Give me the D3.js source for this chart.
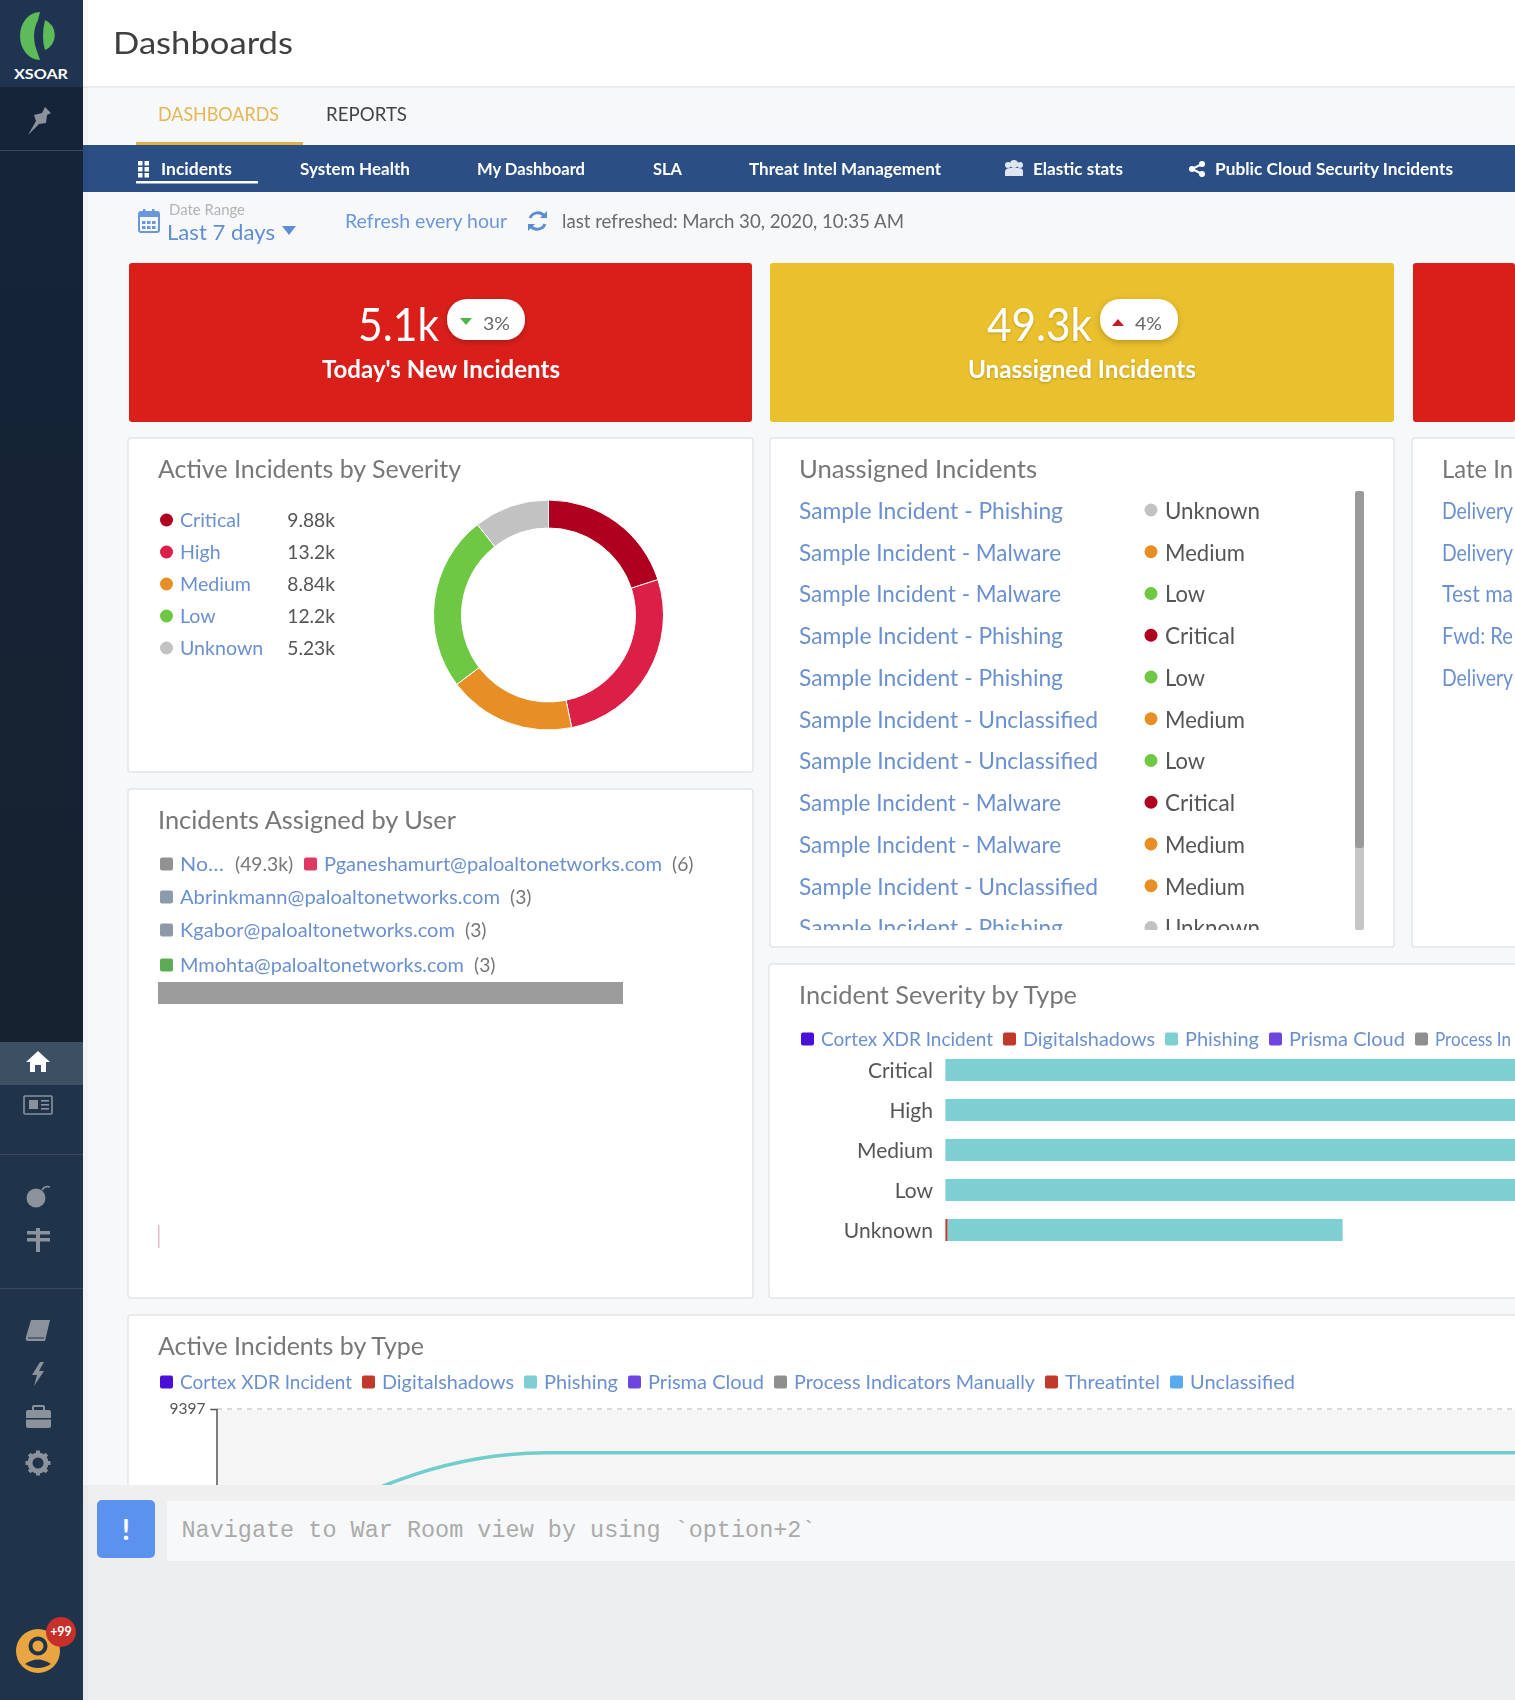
<!DOCTYPE html>
<html><head><meta charset="utf-8">
<style>html,body{margin:0;padding:0;background:#f7f8fa;overflow:hidden}svg{display:block;font-family:Lato,"Noto Sans",sans-serif;filter:blur(.4px)}</style>
<script src="https://cdn.jsdelivr.net/npm/d3@7"></script></head><body><svg id="c" width="1515" height="1700"></svg>
<script>
// ---------- data ----------
const severityLevels = ["Critical","High","Medium","Low","Unknown"];
const severityCounts = [9880,13200,8840,12200,5230];
const severityCountLabels = ["9.88k","13.2k","8.84k","12.2k","5.23k"];
const severityColors = ["#b00020","#dc1f47","#e78f24","#6fc843","#c2c2c2"];

const assignedUsers = ["No…","Pganeshamurt@paloaltonetworks.com","Abrinkmann@paloaltonetworks.com","Kgabor@paloaltonetworks.com","Mmohta@paloaltonetworks.com"];
const assignedCounts = [49300,6,3,3,3];
const assignedCountLabels = ["(49.3k)","(6)","(3)","(3)","(3)"];
const assignedColors = ["#929292","#dc3a62","#8a9bab","#8d99a6","#5cab55"];

const incidentNames = ["Sample Incident - Phishing","Sample Incident - Malware","Sample Incident - Malware","Sample Incident - Phishing","Sample Incident - Phishing","Sample Incident - Unclassified","Sample Incident - Unclassified","Sample Incident - Malware","Sample Incident - Malware","Sample Incident - Unclassified","Sample Incident - Phishing"];
const incidentSeverities = ["Unknown","Medium","Low","Critical","Low","Medium","Low","Critical","Medium","Medium","Unknown"];
const lateIncidents = ["Delivery","Delivery","Test ma","Fwd: Re","Delivery"];

const incidentTypes = ["Cortex XDR Incident","Digitalshadows","Phishing","Prisma Cloud","Process Indicators Manually","Threatintel","Unclassified"];
const incidentTypeColors = ["#4a10d8","#c0392b","#7dcfd1","#6f45e0","#8f8f8f","#c0392b","#5aa9ee"];
const severityDigitalshadows = [0,0,0,0,30];
const severityPhishing = [9880,13200,8840,12200,5200];

const activeDays = [0,1,2,3,4,5,6,7,8];
const activePhishing = [0,6600,7820,7820,7820,7820,7820,7820,7820];
const activeTick = [9397];

// ---------- helpers ----------
const svg = d3.select("#c");
const defs = svg.append("defs");
const shadow = defs.append("filter").attr("id","sh").attr("x","-30%").attr("y","-30%").attr("width","160%").attr("height","180%");
shadow.append("feDropShadow").attr("dx",0).attr("dy",2).attr("stdDeviation",3).attr("flood-color","#000").attr("flood-opacity",.22);
const tshadow = defs.append("filter").attr("id","ts").attr("x","-5%").attr("y","-20%").attr("width","110%").attr("height","150%");
tshadow.append("feDropShadow").attr("dx",0).attr("dy",1).attr("stdDeviation",1).attr("flood-color","#8a6a00").attr("flood-opacity",.5);
const sideGrad = defs.append("linearGradient").attr("id","sd").attr("x1",0).attr("x2",0).attr("y1",0).attr("y2",1);
sideGrad.append("stop").attr("offset","0%").attr("stop-color","#16243a");
sideGrad.append("stop").attr("offset","100%").attr("stop-color","#15222f");
function clip(id,x,y,w,h){defs.append("clipPath").attr("id",id).append("rect").attr("x",x).attr("y",y).attr("width",w).attr("height",h);}

const K = 0.965;
function T(g,x,y,s,o={}){
  const e = g.append("text").attr("x",x).attr("y",y).attr("dy",o.dy??".35em").text(s)
    .attr("font-size",o.size||20).attr("fill",o.color||"#555")
    .attr("text-anchor",o.anchor||"start").attr("font-weight",o.weight||400);
  if(o.family) e.attr("font-family",o.family);
  if(o.filter) e.attr("filter",o.filter);
  const len = o.w || e.node().getComputedTextLength()*(o.k||K);
  e.attr("textLength",len).attr("lengthAdjust","spacingAndGlyphs");
  return len;
}
function R(g,x,y,w,h,fill,rx=0){return g.append("rect").attr("x",x).attr("y",y).attr("width",w).attr("height",h).attr("fill",fill).attr("rx",rx);}
function panel(x,y,w,h){R(svg,x,y,w,h,"#fff",3).attr("stroke","#e3e5e9").attr("stroke-width",1.5);}
const BLUE="#6a90d0", DARK="#555", TITLE="#777", TS=25.5;

// ---------- page chrome ----------
R(svg,83,0,1432,87,"#ffffff");
R(svg,83,86,1432,2,"#ebecee");
R(svg,83,88,1432,58,"#f7f8fa");
T(svg,113,43,"Dashboards",{size:31,color:"#3f3f3f",w:180});
T(svg,158,115,"DASHBOARDS",{size:18.5,color:"#e6b655",w:121});
T(svg,326,115,"REPORTS",{size:18.5,color:"#444",w:81});
R(svg,136,142,167,4,"#dfb148");
R(svg,83,145,1432,47,"#2b4f84");

const navItems=["Incidents","System Health","My Dashboard","SLA","Threat Intel Management","Elastic stats","Public Cloud Security Incidents"];
const navX=[161,300,477,653,749,1033,1215], navW=[71,110,108,29,192,90,238];
navItems.forEach((n,i)=>T(svg,navX[i],169,n,{size:17,color:"#fff",w:navW[i],weight:700}));
R(svg,136,181,122,2.5,"#fff");
[0,1,2].forEach(r=>[0,1].forEach(c=>R(svg,138+c*6.5,161+r*6,4.5,4.5,"#fff")));
const ei=svg.append("g").attr("fill","#dfe6f0");
ei.append("circle").attr("cx",1014).attr("cy",164).attr("r",4);
ei.append("circle").attr("cx",1008).attr("cy",165).attr("r",3);
ei.append("circle").attr("cx",1020).attr("cy",165).attr("r",3);
ei.append("path").attr("d","M1005 176v-5q1-3 5-3h8q5 0 5 3v5z");
const si=svg.append("g");
si.append("path").attr("d","M1202 164L1192 169L1202 174").attr("stroke","#fff").attr("stroke-width",2).attr("fill","none");
[[1202,164],[1192,169],[1202,174]].forEach(p=>si.append("circle").attr("cx",p[0]).attr("cy",p[1]).attr("r",3).attr("fill","#fff"));

// date row
const cal=svg.append("g");
R(cal,139,212,20,20,"none",2).attr("stroke","#6a96dc").attr("stroke-width",2);
R(cal,139,212,20,5,"#6a96dc");
R(cal,143,209,2.5,5,"#6a96dc");R(cal,152,209,2.5,5,"#6a96dc");
[221,226].forEach(y=>[142,147,152].forEach(x=>R(cal,x,y,3.5,3,"#6a96dc")));
T(svg,169,210,"Date Range",{size:14.5,color:"#b3b3b3",w:76});
T(svg,167,232,"Last 7 days",{size:22,color:"#5f8dd3",w:108});
svg.append("path").attr("d","M282 226h14l-7 9z").attr("fill","#5f8dd3");
T(svg,345,221,"Refresh every hour",{size:19.5,color:"#6c97d8",w:162});
const rf=svg.append("g").attr("fill","none").attr("stroke","#5f8dd3").attr("stroke-width",3);
rf.append("path").attr("d","M530 218a8.5 8.5 0 0 1 14.5-2");
rf.append("path").attr("d","M545 224a8.5 8.5 0 0 1-14.5 2");
svg.append("path").attr("d","M547 211v7h-7z").attr("fill","#5f8dd3");
svg.append("path").attr("d","M528 231v-7h7z").attr("fill","#5f8dd3");
T(svg,562,221,"last refreshed: March 30, 2020, 10:35 AM",{size:19.5,color:"#6a6a6a",w:342});

// KPI cards
R(svg,129,263,623,159,"#da1f1b",3);
R(svg,770,263,624,159,"#e9c02d",3);
R(svg,1413,263,102,159,"#da1f1b",3);
T(svg,358,325,"5.1k",{size:46,color:"#fff",w:81});
R(svg,447,299,78,41,"#fff",20).attr("filter","url(#sh)");
svg.append("path").attr("d","M460 318h12l-6 7z").attr("fill","#4cb748");
T(svg,483,323.5,"3%",{size:18,color:"#666",w:27});
T(svg,322,370,"Today's New Incidents",{size:24,color:"#fff",w:238,weight:700});
T(svg,987,325,"49.3k",{size:46,color:"#fff",w:105,filter:"url(#ts)"});
R(svg,1100,299,78,41,"#fff",20).attr("filter","url(#sh)");
svg.append("path").attr("d","M1112 326h12l-6-7z").attr("fill","#c01f26");
T(svg,1135,323.5,"4%",{size:18,color:"#666",w:27});
T(svg,968,370,"Unassigned Incidents",{size:24,color:"#fff",w:228,filter:"url(#ts)",weight:700});

// ---------- Active Incidents by Severity ----------
panel(128,438,625,334);
T(svg,158,469,"Active Incidents by Severity",{size:TS,color:TITLE,w:303});
const legY=d3.scalePoint().domain(severityLevels).range([520,648]);
severityLevels.forEach((s,i)=>{
  svg.append("circle").attr("cx",166.5).attr("cy",legY(s)).attr("r",6.5).attr("fill",severityColors[i]);
  T(svg,180,legY(s),s,{size:20,color:BLUE,k:.98});
  T(svg,335,legY(s),severityCountLabels[i],{size:20,color:DARK,anchor:"end",k:.96});
});
const pie=d3.pie().sort(null).value(d=>d);
const arc=d3.arc().innerRadius(87).outerRadius(115);
svg.append("g").attr("transform","translate(548.5,615)").selectAll("path").data(pie(severityCounts)).join("path")
  .attr("d",arc).attr("fill",(d,i)=>severityColors[i]).attr("stroke","#fff").attr("stroke-width",1);

// ---------- Incidents Assigned by User ----------
panel(128,789,625,509);
T(svg,158,820,"Incidents Assigned by User",{size:TS,color:TITLE,w:298});
function userRow(x,y,i,w,cx){
  R(svg,x,y-6.5,13,13,assignedColors[i],2);
  T(svg,x+20,y,assignedUsers[i],{size:20,color:BLUE,w});
  T(svg,cx,y,assignedCountLabels[i],{size:20,color:"#777"});
}
userRow(160,864,0,44,235);
userRow(304,864,1,338,672);
userRow(160,897,2,320,510);
userRow(160,930,3,275,465);
userRow(160,965,4,284,474);
const userX=d3.scaleLinear().domain([0,49300]).range([158,623]);
R(svg,userX(0),982,userX(assignedCounts[0])-userX(0),22,"#9b9b9b");
R(svg,userX(0),1225,Math.max(userX(assignedCounts[1])-userX(0),1.5),23,"#e3bcc9");

// ---------- Unassigned Incidents ----------
panel(770,438,624,509);
T(svg,799,469.5,"Unassigned Incidents",{size:TS,color:TITLE,w:238});
clip("listClip",770,480,590,450);
const list=svg.append("g").attr("clip-path","url(#listClip)");
const rowY=d3.scalePoint().domain(d3.range(incidentNames.length)).range([511,928.5]);
incidentNames.forEach((n,i)=>{
  const c=severityColors[severityLevels.indexOf(incidentSeverities[i])];
  T(list,799,rowY(i),n,{size:22.5,color:BLUE,w:n.endsWith("Phishing")?264:n.endsWith("Malware")?262:299});
  list.append("circle").attr("cx",1151).attr("cy",rowY(i)-1).attr("r",6.5).attr("fill",c);
  T(list,1165,rowY(i),incidentSeverities[i],{size:22.5,color:DARK,w:{Unknown:95,Medium:80,Low:40,Critical:70}[incidentSeverities[i]]});
});
R(svg,1355,491,9,439,"#c6c6c6",2);
R(svg,1355,491,9,357,"#9a9a9a",3);

// Late Incidents (as far as the page shows them)
panel(1412,438,110,509);
T(svg,1442,469.5,"Late In",{size:TS,color:TITLE,w:71});
const lateW={Delivery:71,"Test ma":71,"Fwd: Re":71};
lateIncidents.forEach((n,i)=>T(svg,1442,rowY(i),n,{size:22.5,color:BLUE,w:lateW[n]}));

// ---------- Incident Severity by Type ----------
panel(769,964,760,334);
T(svg,799,995.5,"Incident Severity by Type",{size:TS,color:TITLE,w:278});
function legendFlow(x,y,labels,widths){
  labels.forEach((l,i)=>{
    R(svg,x,y-6.5,13,13,incidentTypeColors[i],2);
    T(svg,x+20,y,l,{size:20,color:BLUE,w:widths[i]});
    x+=21+widths[i]+9;
  });
}
legendFlow(801,1039,["Cortex XDR Incident","Digitalshadows","Phishing","Prisma Cloud","Process In"],[172,132,74,116,76]);
const sevY=d3.scaleBand().domain(severityLevels).range([1050,1250]).paddingInner(.45).paddingOuter(.225);
const sevX=d3.scaleLinear().domain([0,5230]).range([945.4,1342.6]);
const sevRows=severityLevels.map((s,i)=>({level:s,Digitalshadows:severityDigitalshadows[i],Phishing:severityPhishing[i]}));
const sevStack=d3.stack().keys(["Digitalshadows","Phishing"])(sevRows);
clip("sevClip",945,1050,570,200);
svg.append("g").attr("clip-path","url(#sevClip)").selectAll("g").data(sevStack).join("g")
  .attr("fill",d=>d.key==="Phishing"?incidentTypeColors[2]:incidentTypeColors[1])
  .selectAll("rect").data(d=>d).join("rect")
  .attr("x",d=>sevX(d[0])).attr("width",d=>sevX(d[1])-sevX(d[0]))
  .attr("y",d=>sevY(d.data.level)).attr("height",sevY.bandwidth());
const sevAxis=svg.append("g").attr("transform","translate(945,0)").call(d3.axisLeft(sevY).tickSize(0).tickPadding(12));
sevAxis.select(".domain").remove();
sevAxis.selectAll("text").attr("font-size",21).attr("font-family","Lato").attr("fill","#555").attr("dy",".36em");

// ---------- Active Incidents by Type ----------
panel(128,1315,1400,300);
T(svg,158,1346,"Active Incidents by Type",{size:TS,color:TITLE,w:266});
legendFlow(160,1382,incidentTypes,[172,132,74,116,241,95,105]);
R(svg,217,1410,1298,80,"#f6f5f5");
const actY=d3.scaleLinear().domain([0,9397]).range([1670,1409]);
const actX=d3.scalePoint().domain(activeDays).range([216.5,216.5+165*8]);
svg.append("line").attr("x1",217).attr("x2",1515).attr("y1",actY(activeTick[0])).attr("y2",actY(activeTick[0])).attr("stroke","#d8d8d8").attr("stroke-width",2).attr("stroke-dasharray","5 5");
clip("actClip",217,1400,1298,90);
svg.append("path").attr("clip-path","url(#actClip)").attr("fill","none").attr("stroke","#71cdcc").attr("stroke-width",3.5)
  .attr("d",d3.line().x((d,i)=>actX(activeDays[i])).y(d=>actY(d)).curve(d3.curveMonotoneX)(activePhishing));
const actAxis=svg.append("g").attr("transform","translate(216.5,0)").call(d3.axisLeft(actY).tickValues(activeTick).tickFormat(d3.format("d")).tickSize(6).tickPadding(5));
actAxis.selectAll("text").attr("font-size",15.5).attr("font-family","Lato").attr("fill","#555");
actAxis.selectAll("line").attr("stroke","#555");
actAxis.select(".domain").attr("stroke","#555").attr("stroke-width",1.5);

// ---------- footer ----------
R(svg,83,1485,1432,215,"#edeef0");
R(svg,83,1485,1432,16,"#efeff0");
R(svg,167,1501,1348,60,"#f7f8f9");
R(svg,97,1500,58,58,"#5b92f0",5);
T(svg,126,1530,"!",{size:28,color:"#fff",anchor:"middle",weight:700,k:1});
T(svg,181.5,1529,"Navigate to War Room view by using `option+2`",{size:23,color:"#aaaaaa",family:"'Liberation Mono',monospace",w:634});

// ---------- sidebar ----------
R(svg,0,0,83,1700,"#1f334b");
R(svg,83,0,5,1700,"#000").attr("opacity",.02);
R(svg,0,0,83,87,"#1f3450");
R(svg,0,87,83,955,"url(#sd)");
R(svg,0,1042,83,43,"#3c4f63");
[150,1154,1288].forEach(y=>R(svg,0,y,83,1,"#3a4a5c"));
// logo
const logo=svg.append("g").attr("fill","#5dbb5a");
logo.append("path").attr("d","M40 12A20 24 0 0 0 40 60L38 54Q34 44 34 36Q34 28 38 20Z");
logo.append("path").attr("d","M45 20A15 16 0 0 1 45 50Q43 44 43 36Q43 28 45 20Z");
T(svg,41,74,"XSOAR",{size:13.5,color:"#fff",anchor:"middle",weight:700,w:54});
const G="#8b929c";
svg.append("path").attr("d","M45 107l6 6-4 2-1 8-7 1-11 11 8-14 -2-6 8-2z").attr("fill",G);
svg.append("path").attr("d","M38 1051L50 1062H46V1072H41V1065H35V1072H30V1062H26Z").attr("fill","#fff");
svg.append("rect").attr("x",24).attr("y",1096).attr("width",28).attr("height",18).attr("fill","none").attr("stroke",G).attr("stroke-width",1.6).attr("rx",1);
R(svg,29,1100,9,9,G);[1100,1104,1108].forEach(y=>R(svg,41,y,8,1.6,G));
svg.append("circle").attr("cx",36).attr("cy",1198).attr("r",9.5).attr("fill",G);
svg.append("path").attr("d","M42 1190q3-5 8-3").attr("stroke",G).attr("stroke-width",1.5).attr("fill","none");
R(svg,36,1228,4,24,G);R(svg,27,1231,23,3.5,G);R(svg,27,1238,23,3.5,G);
svg.append("path").attr("d","M31 1320H50L45 1341H28Q25 1341 26 1337Z").attr("fill",G);
svg.append("path").attr("d","M28 1338H44").attr("stroke","#1f334b").attr("stroke-width",1);
svg.append("path").attr("d","M40 1362L32 1375H37L34 1386L44 1371H39L44 1362Z").attr("fill",G);
R(svg,26,1410,25,18,G,2);R(svg,33,1406,11,5,"none",1).attr("stroke",G).attr("stroke-width",2);
R(svg,26,1418,25,1.5,"#1f334b");
svg.append("circle").attr("cx",38).attr("cy",1463).attr("r",8).attr("fill","none").attr("stroke",G).attr("stroke-width",5);
d3.range(8).forEach(i=>R(svg,36,1450.5,4,5,G).attr("transform",`rotate(${i*45} 38 1463)`));
svg.append("circle").attr("cx",38).attr("cy",1651).attr("r",22).attr("fill","#e9a53f");
svg.append("circle").attr("cx",38).attr("cy",1646).attr("r",7.5).attr("fill","none").attr("stroke","#1f334b").attr("stroke-width",4);
svg.append("path").attr("d","M25 1664q13-9 26 0q-13 8-26 0z").attr("fill","#1f334b");
svg.append("circle").attr("cx",61).attr("cy",1632).attr("r",15).attr("fill","#c62f2a");
T(svg,61,1632,"+99",{size:12.5,color:"#fff",anchor:"middle",weight:700,k:1});
</script></body></html>
